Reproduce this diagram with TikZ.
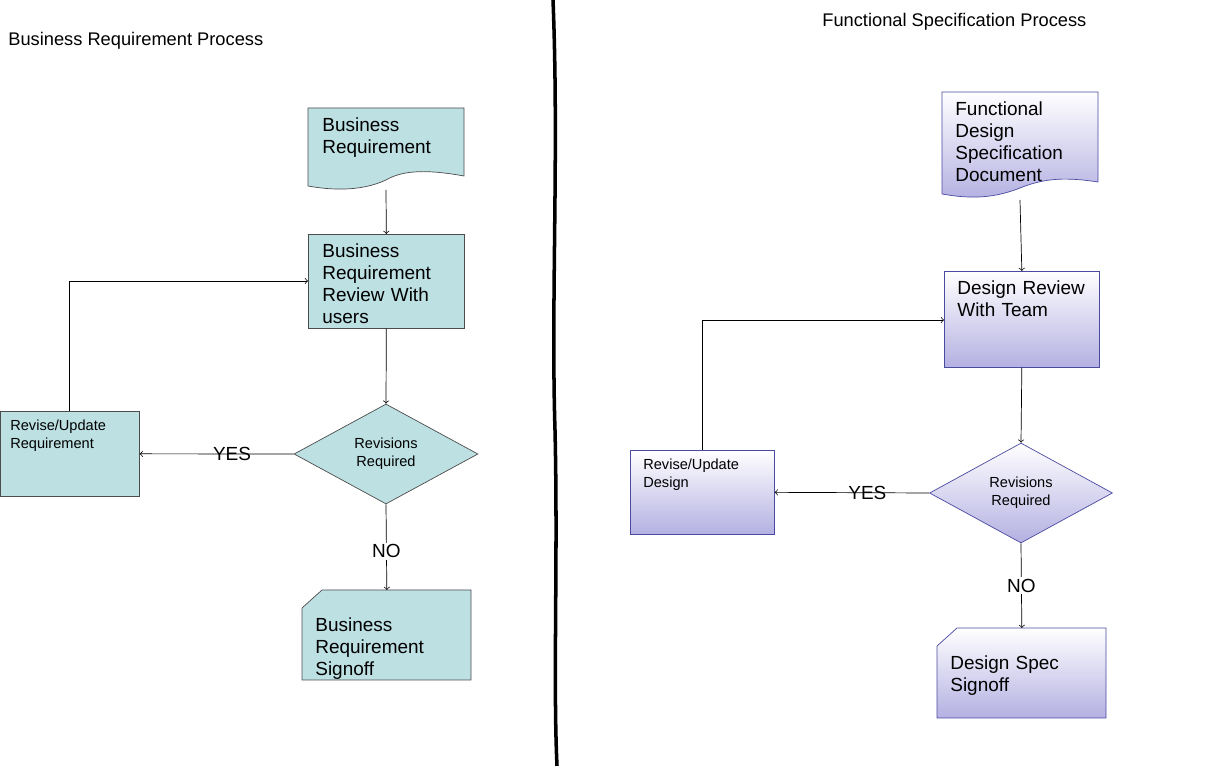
\documentclass[tikz,border=0pt]{standalone}
\usepackage{fontspec}
\setmainfont{Liberation Sans}
\usetikzlibrary{shapes.geometric}
\definecolor{teal}{HTML}{BDE0E3}
\definecolor{lav}{HTML}{B4B0E2}
\definecolor{navy}{HTML}{4A4AA0}
\begin{document}
\begin{tikzpicture}[x=0.02cm,y=-0.02cm,>=to,
  big/.style={font=\fontsize{10.8}{12.6}\selectfont,align=left,text width=#1,inner sep=0pt},
  small/.style={font=\fontsize{8.3}{10}\selectfont,align=left,inner sep=0pt},
  tl/.style={fill=teal,draw=black!70},
  pl/.style={top color=white,bottom color=lav,draw=navy}]
\useasboundingbox (0,0) rectangle (1225,766);

% titles
\node[anchor=west,font=\fontsize{10.4}{12}\selectfont,inner sep=0pt] (t1) at (8,41) {Business Requirement Process};
\node[anchor=west,font=\fontsize{10.4}{12}\selectfont,inner sep=0pt] (t2) at (822,22) {Functional Specification Process};

% divider
\draw[line width=2pt] (553,0) .. controls (559,150) and (551,300) .. (555,430)
  .. controls (558,560) and (553,680) .. (557,766);

% left side
\path[tl] (308,108) -- (464,108) -- (464,176) .. controls (420,168) and (400,172) .. (386,180)
  .. controls (360,192) and (330,190) .. (308,186) -- cycle;
\node[draw=none,minimum width=3.12cm,minimum height=1.44cm,anchor=north west] (brd) at (308,108) {};
\node[big=2.8cm,anchor=north west] at (322,117) {Business\\Requirement};
\coordinate (brdb) at (386,190);

\node[tl,minimum width=3.12cm,minimum height=1.88cm,anchor=north west] (brr) at (308,234) {};
\node[big=2.8cm,anchor=north west] at (322,243) {Business\\Requirement\\Review With\\users};

\node[tl,diamond,aspect=1.84,minimum width=3.68cm,minimum height=2cm,inner sep=0pt,
  small,align=center] (brq) at (386,454) {Revisions\\Required};

\node[tl,minimum width=2.78cm,minimum height=1.7cm,anchor=north west] (bru) at (0,411) {};
\node[small,anchor=north west] at (10,420) {Revise/Update\\Requirement};

\path[tl] (322,590) -- (471,590) -- (471,680) -- (302,680) -- (302,608) -- cycle;
\node[draw=none,minimum width=3.38cm,minimum height=1.8cm,anchor=north west] (brs) at (302,590) {};
\node[big=2.8cm,anchor=north west] at (315,617) {Business\\Requirement\\Signoff};

\draw[->] (brdb) -- (brr.north);
\draw[->] (brr.south) -- (brq.north);
\draw[->] (brq.west) -- node[pos=0.4,font=\fontsize{10.8}{12}\selectfont] {YES} (bru.east);
\draw[->] (bru.north) |- (308,281);
\draw[->] (brq.south) -- node[pos=0.55,fill=white,inner sep=1pt,font=\fontsize{10.8}{12}\selectfont] {NO} (brs.north);

% right side
\path[pl] (942,92) -- (1098,92) -- (1098,182) .. controls (1060,176) and (1040,180) .. (1020,188)
  .. controls (990,200) and (965,198) .. (942,194) -- cycle;
\node[draw=none,minimum width=3.12cm,minimum height=2.16cm,anchor=north west] (fsd) at (942,92) {};
\node[big=2.8cm,anchor=north west] at (955,101) {Functional\\Design\\Specification\\Document};
\coordinate (fsdb) at (1020,200);

\node[pl,minimum width=3.1cm,minimum height=1.92cm,anchor=north west] (fsr) at (944,271) {};
\node[big=2.8cm,anchor=north west] at (957,280) {Design Review\\With Team};

\node[pl,diamond,aspect=1.83,minimum width=3.66cm,minimum height=2cm,inner sep=0pt,
  small,align=center] (fsq) at (1021,493) {Revisions\\Required};

\node[pl,minimum width=2.88cm,minimum height=1.68cm,anchor=north west] (fsu) at (630,450) {};
\node[small,anchor=north west] at (643,459) {Revise/Update\\Design};

\path[pl] (957,628) -- (1106,628) -- (1106,718) -- (937,718) -- (937,646) -- cycle;
\node[draw=none,minimum width=3.38cm,minimum height=1.8cm,anchor=north west] (fss) at (937,628) {};
\node[big=2.8cm,anchor=north west] at (950,655) {Design Spec\\Signoff};

\draw[->] (fsdb) -- (fsr.north);
\draw[->] (fsr.south) -- (fsq.north);
\draw[->] (fsq.west) -- node[pos=0.4,font=\fontsize{10.8}{12}\selectfont] {YES} (fsu.east);
\draw[->] (fsu.north) |- (944,320);
\draw[->] (fsq.south) -- node[pos=0.5,fill=white,inner sep=1pt,font=\fontsize{10.8}{12}\selectfont] {NO} (fss.north);
\end{tikzpicture}
\end{document}
